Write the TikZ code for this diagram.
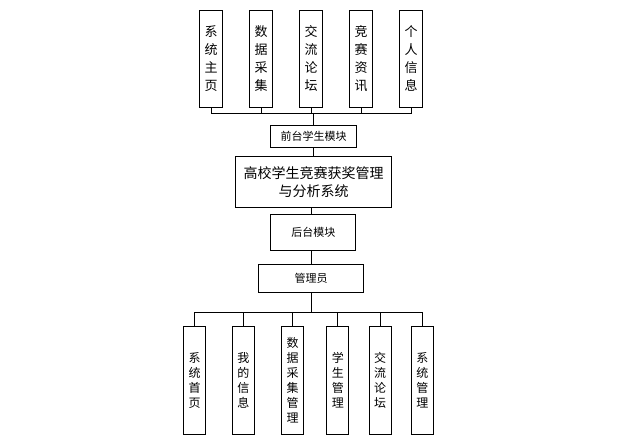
\documentclass[tikz,border=0pt]{standalone}
\usepackage{fontspec}
\newfontfamily\cjk{Noto Sans CJK SC}
\usetikzlibrary{positioning,calc}
\tikzset{
  % 模块框
  topbox/.style={draw=black,line width=0.8pt,fill=white,inner sep=0pt,
                 minimum width=23pt,minimum height=97pt,align=center,
                 font=\cjk\fontsize{13}{18}\selectfont},
  botbox/.style={draw=black,line width=0.8pt,fill=white,inner sep=0pt,
                 minimum width=22pt,minimum height=108pt,align=center,
                 font=\cjk\fontsize{12}{15}\selectfont},
  midbox/.style={draw=black,line width=0.8pt,fill=white,inner sep=0pt,
                 align=center,font=\cjk\fontsize{11}{14}\selectfont},
  mainbox/.style={draw=black,line width=0.8pt,fill=white,inner sep=0pt,
                  minimum width=156pt,minimum height=51pt,align=center,
                  font=\cjk\fontsize{14}{18.5}\selectfont},
  % 连线
  link/.style={draw=black,line width=0.8pt},
}
\begin{document}
\begin{tikzpicture}[x=1pt,y=-1pt]
\useasboundingbox (0,0) rectangle (618,446);
  % 前台
  \node[topbox] (t1) at (211,58.5) {系\\统\\主\\页};
  \node[topbox] (t2) at (261,58.5) {数\\据\\采\\集};
  \node[topbox] (t3) at (311,58.5) {交\\流\\论\\坛};
  \node[topbox] (t4) at (361,58.5) {竞\\赛\\资\\讯};
  \node[topbox] (t5) at (411,58.5) {个\\人\\信\\息};
  \node[midbox,minimum width=86pt,minimum height=22pt] (front) at (313.5,136) {前台学生模块};
  \node[mainbox] (sys) at (313.5,182) {高校学生竞赛获奖管理\\与分析系统};
  \node[midbox,minimum width=85pt,minimum height=36pt] (back) at (313.3,232) {后台模块};
  \node[midbox,minimum width=105pt,minimum height=28.5pt] (admin) at (311,278.5) {管理员};
  \coordinate (spine) at (311.7,0);
  % 后台
  \node[botbox] (b1) at (194.5,380) {系\\统\\首\\页};
  \node[botbox] (b2) at (243.3,380) {我\\的\\信\\息};
  \node[botbox] (b3) at (292.5,380) {数\\据\\采\\集\\管\\理};
  \node[botbox] (b4) at (337.8,380) {学\\生\\管\\理};
  \node[botbox] (b5) at (380.2,380) {交\\流\\论\\坛};
  \node[botbox] (b6) at (422.3,380) {系\\统\\管\\理};
  \foreach \t in {t1,t2,t3,t4,t5}
    \draw[link] (\t.south) -- ++(0,6) -| (front.north);
  \draw[link] (front) -- (sys);
  \draw[link] (sys.south -| spine) -- (back.north -| spine);
  \draw[link] (back.south -| spine) -- (admin.north -| spine);
  \foreach \b in {b1,b2,b3,b4,b5,b6}
    \draw[link] (admin.south -| spine) -- ++(0,19) -| (\b.north);
\end{tikzpicture}
\end{document}
